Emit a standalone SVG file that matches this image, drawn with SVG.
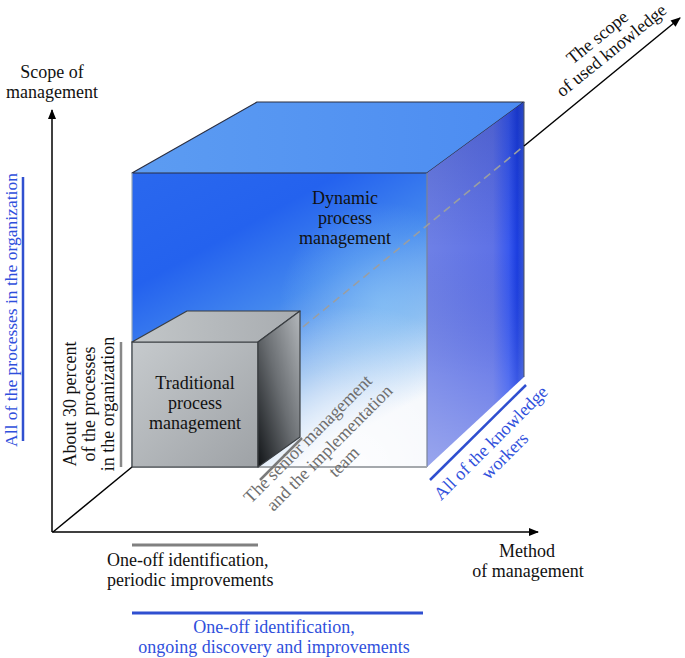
<svg xmlns="http://www.w3.org/2000/svg" width="685" height="658" viewBox="0 0 685 658">
<style>
  text { font-family: "Liberation Serif", "Times New Roman", serif; font-size: 18px; fill: #111; }
  .blue { fill: #3050dc; }
  .gray { fill: #6e6e6e; }
  .mid { text-anchor: middle; }
  .axis { stroke: #000; stroke-width: 1.5; fill: none; }
</style>
<defs>
  <marker id="arr" viewBox="0 0 10 10" refX="9" refY="5" markerWidth="11" markerHeight="10" markerUnits="userSpaceOnUse" orient="auto">
    <path d="M0,1 L10,5 L0,9 z" fill="#000"/>
  </marker>
  <linearGradient id="gFront" x1="0" y1="0" x2="0.55" y2="1">
    <stop offset="0" stop-color="#2a68ee"/>
    <stop offset="0.3" stop-color="#2462ee"/>
    <stop offset="0.55" stop-color="#4488ee"/>
    <stop offset="0.78" stop-color="#8ab8ee"/>
    <stop offset="1" stop-color="#f3f6fb"/>
  </linearGradient>
  <radialGradient id="gGlow" cx="0.85" cy="0.45" r="0.35">
    <stop offset="0" stop-color="#8cc8f8" stop-opacity="0.6"/>
    <stop offset="1" stop-color="#8cc8f8" stop-opacity="0"/>
  </radialGradient>
  <radialGradient id="gWhite" cx="0.75" cy="1" r="0.55">
    <stop offset="0" stop-color="#ffffff" stop-opacity="0.8"/>
    <stop offset="1" stop-color="#ffffff" stop-opacity="0"/>
  </radialGradient>
  <linearGradient id="gTop" x1="0" y1="0" x2="1" y2="0">
    <stop offset="0" stop-color="#5c9cf2"/>
    <stop offset="1" stop-color="#4c8cf2"/>
  </linearGradient>
  <linearGradient id="gRight" x1="0" y1="0" x2="1" y2="0">
    <stop offset="0" stop-color="#6e80e6"/>
    <stop offset="0.68" stop-color="#5f72e6"/>
    <stop offset="0.84" stop-color="#3a5aee"/>
    <stop offset="0.93" stop-color="#1c3ee0"/>
    <stop offset="1" stop-color="#3556d8"/>
  </linearGradient>
  <linearGradient id="gRightV" x1="0" y1="0" x2="0" y2="1">
    <stop offset="0" stop-color="#0a1a70" stop-opacity="0.22"/>
    <stop offset="0.4" stop-color="#0a1a70" stop-opacity="0"/>
    <stop offset="0.75" stop-color="#ffffff" stop-opacity="0.12"/>
    <stop offset="1" stop-color="#ffffff" stop-opacity="0.3"/>
  </linearGradient>
  <linearGradient id="gSFront" x1="0" y1="0" x2="1" y2="1">
    <stop offset="0" stop-color="#c6cacd"/>
    <stop offset="1" stop-color="#9ea2a6"/>
  </linearGradient>
  <linearGradient id="gSTop" x1="0" y1="0" x2="1" y2="0">
    <stop offset="0" stop-color="#c2c6c8"/>
    <stop offset="1" stop-color="#a8acb0"/>
  </linearGradient>
  <linearGradient id="gSRight" x1="1" y1="0" x2="0" y2="1">
    <stop offset="0" stop-color="#b4b8bc"/>
    <stop offset="0.5" stop-color="#6a6e72"/>
    <stop offset="1" stop-color="#111417"/>
  </linearGradient>
</defs>

<g id="big-cube">
  <polygon points="132,173 427,173 427,467 132,467" fill="url(#gFront)"/>
  <polygon points="132,173 427,173 427,467 132,467" fill="url(#gGlow)"/>
  <polygon points="132,173 427,173 427,467 132,467" fill="url(#gWhite)"/>
  <polygon points="132,173 257,102 524,102 427,173" fill="url(#gTop)" stroke="#2a2e40" stroke-width="1.2" stroke-linejoin="round"/>
  <polygon points="427,173 524,102 524,377 427,467" fill="url(#gRight)"/>
  <polygon points="427,173 524,102 524,377 427,467" fill="url(#gRightV)"/>
  <line x1="524" y1="102" x2="524" y2="377" stroke="#4a5060" stroke-width="1"/>
  <line x1="427" y1="173" x2="427" y2="467" stroke="#7a8498" stroke-width="1.2"/>
  <line x1="132" y1="173" x2="132" y2="467" stroke="#9aaabb" stroke-width="1.2"/>
  <line x1="132" y1="467" x2="427" y2="467" stroke="#a4a8ac" stroke-width="2"/>
  <text class="mid" x="345" y="204">Dynamic</text>
  <text class="mid" x="345" y="224">process</text>
  <text class="mid" x="345" y="244">management</text>
</g>

<g id="connectors">
  <line x1="132" y1="467" x2="524" y2="146" stroke="#9a9ea2" stroke-width="1.6" stroke-dasharray="8,5"/>
  <line class="axis" x1="53" y1="532" x2="132" y2="467"/>
  <line class="axis" x1="524" y1="146" x2="680" y2="18" marker-end="url(#arr)"/>
  <line class="axis" x1="52" y1="532" x2="52" y2="110" marker-end="url(#arr)"/>
  <line class="axis" x1="52" y1="532" x2="538" y2="532" marker-end="url(#arr)"/>
</g>

<g id="small-cube">
  <polygon points="132,342 258,342 258,467 132,467" fill="url(#gSFront)" stroke="#3a3e42" stroke-width="1.2"/>
  <polygon points="132,342 187,311 300,311 258,342" fill="url(#gSTop)" stroke="#3a3e42" stroke-width="1.2" stroke-linejoin="round"/>
  <polygon points="258,342 300,311 300,437 258,467" fill="url(#gSRight)" stroke="#3a3e42" stroke-width="1.2" stroke-linejoin="round"/>
  <text class="mid" x="195" y="389">Traditional</text>
  <text class="mid" x="195" y="409">process</text>
  <text class="mid" x="195" y="429">management</text>
</g>

<g id="label-scope-management">
  <text class="mid" x="52" y="78">Scope of</text>
  <text class="mid" x="52" y="98">management</text>
</g>

<g id="label-method">
  <text class="mid" x="527" y="557">Method</text>
  <text class="mid" x="528" y="577">of management</text>
</g>

<g id="label-scope-knowledge">
  <text class="mid" transform="translate(601,42) rotate(-39)">The scope</text>
  <text class="mid" transform="translate(615,55) rotate(-39)">of used knowledge</text>
</g>

<g id="label-all-processes">
  <line x1="23" y1="177" x2="23" y2="441" stroke="#3050d0" stroke-width="2.5"/>
  <text class="mid blue" transform="translate(17,310) rotate(-90)" style="font-size:17.5px">All of the processes in the organization</text>
</g>

<g id="label-30-percent">
  <line x1="121" y1="342" x2="121" y2="467" stroke="#888" stroke-width="2.5"/>
  <text class="mid" transform="translate(76,404) rotate(-90)">About 30 percent</text>
  <text class="mid" transform="translate(95,404) rotate(-90)">of the processes</text>
  <text class="mid" transform="translate(114,404) rotate(-90)">in the organization</text>
</g>

<g id="label-senior">
  <line x1="260" y1="480" x2="302" y2="438" stroke="#7a7a7a" stroke-width="2.5"/>
  <text class="mid gray" transform="translate(312,443) rotate(-45)">The senior management</text>
  <text class="mid gray" transform="translate(333.5,452) rotate(-45)">and the implementation</text>
  <text class="mid gray" transform="translate(348,466) rotate(-45)">team</text>
</g>

<g id="label-knowledge-workers">
  <line x1="430" y1="480" x2="526" y2="385" stroke="#2f4fd0" stroke-width="2.5"/>
  <text class="mid blue" transform="translate(495,447) rotate(-45)">All of the knowledge</text>
  <text class="mid blue" transform="translate(509,460) rotate(-45)">workers</text>
</g>

<g id="label-periodic">
  <line x1="132" y1="545" x2="258" y2="545" stroke="#808080" stroke-width="3"/>
  <text x="107" y="566">One-off identification,</text>
  <text x="107" y="586">periodic improvements</text>
</g>

<g id="label-ongoing">
  <line x1="132" y1="613" x2="423" y2="613" stroke="#2f4fd0" stroke-width="3"/>
  <text class="mid blue" x="274" y="633">One-off identification,</text>
  <text class="mid blue" x="274" y="653">ongoing discovery and improvements</text>
</g>
</svg>
